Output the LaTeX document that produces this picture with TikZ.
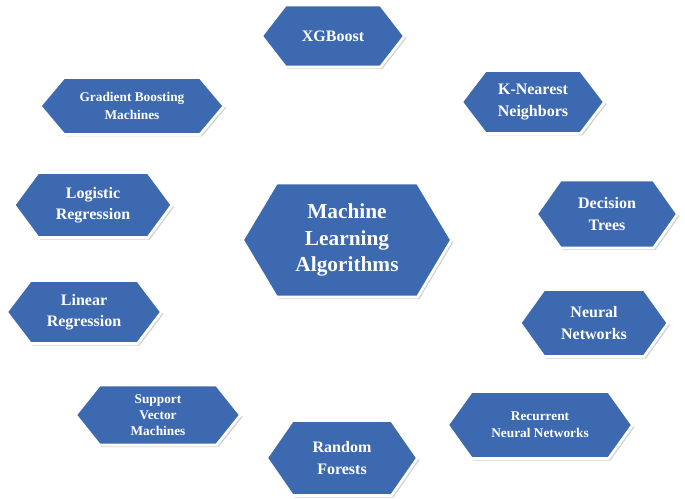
\documentclass[tikz,border=0pt]{standalone}
\usepackage{fontspec}
\setmainfont{Liberation Serif}
\usetikzlibrary{shadows}
\definecolor{hexblue}{HTML}{3D69B0}

\tikzset{
  hexbox/.style={fill=hexblue, draw=white, line width=2pt, line join=miter,
                 drop shadow={opacity=0.35, shadow xshift=1.5pt, shadow yshift=-1.5pt}},
  hexlabel/.style={text=white, font=\bfseries, align=center, inner sep=0pt},
}
% \hexagon{name}{cx}{cy}{width}{height}{inset}{font}{text}
\newcommand{\hexagon}[8]{%
  \path[hexbox] (#2-#4/2+#6,#3-#5/2) -- (#2+#4/2-#6,#3-#5/2) -- (#2+#4/2,#3)
    -- (#2+#4/2-#6,#3+#5/2) -- (#2-#4/2+#6,#3+#5/2) -- (#2-#4/2,#3) -- cycle;
  \node[hexlabel, font=#7\bfseries] (#1) at (#2,#3) {#8};
}

\begin{document}
\begin{tikzpicture}[x=0.75pt, y=-0.75pt]
  \useasboundingbox (0,0) rectangle (685,499);

  % centre
  \hexagon{mla}{347}{240}{209}{114}{34}{\fontsize{16}{20}\selectfont}{Machine\\Learning\\Algorithms}

  % around
  \hexagon{xgb}{333}{36}{143}{62}{24}{\fontsize{12}{15}\selectfont}{XGBoost}
  \hexagon{gbm}{132}{106}{184}{57}{24}{\fontsize{10}{13}\selectfont}{Gradient Boosting\\Machines}
  \hexagon{knn}{533}{102}{143}{63}{24}{\fontsize{12}{16}\selectfont}{K-Nearest\\Neighbors}
  \hexagon{logreg}{93}{205}{158}{65}{24}{\fontsize{12}{16}\selectfont}{Logistic\\Regression}
  \hexagon{dtree}{607}{214}{141}{68}{24}{\fontsize{12}{16}\selectfont}{Decision\\Trees}
  \hexagon{linreg}{84}{312}{155}{63}{24}{\fontsize{12}{16}\selectfont}{Linear\\Regression}
  \hexagon{nnet}{594}{323}{148}{67}{24}{\fontsize{12}{16}\selectfont}{Neural\\Networks}
  \hexagon{svm}{158}{415}{165}{60}{24}{\fontsize{10}{12}\selectfont}{Support\\Vector\\Machines}
  \hexagon{rforest}{342}{458}{151}{75}{26}{\fontsize{12}{16}\selectfont}{Random\\Forests}
  \hexagon{rnn}{540}{425}{185}{67}{24}{\fontsize{10}{13}\selectfont}{Recurrent\\Neural Networks}
\end{tikzpicture}
\end{document}
